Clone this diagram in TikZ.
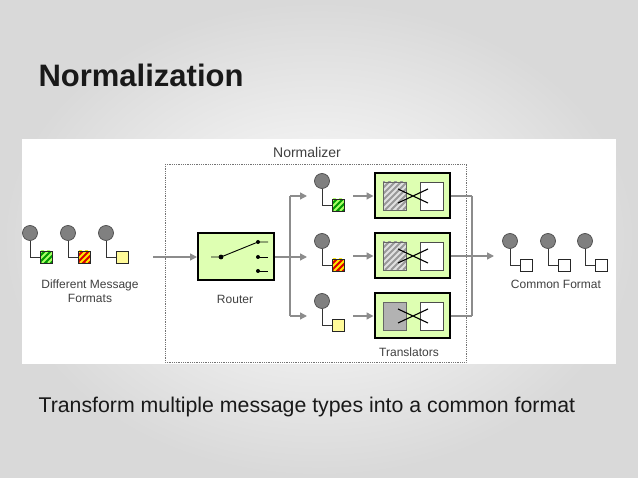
\documentclass[tikz,border=0pt]{standalone}
\usepackage{fontspec}
\setmainfont{Liberation Sans}
\usetikzlibrary{arrows.meta}
\begin{document}
\begin{tikzpicture}[x=1pt,y=-1pt,
  circ/.style={circle,draw=black!70,fill=black!50,minimum size=15pt,inner sep=0pt,line width=0.7pt},
  msq/.style={draw=black!85,minimum size=12pt,inner sep=0pt,line width=0.8pt},
  lbl/.style={font=\fontsize{12}{14}\selectfont,text=black!75,align=center},
  arr/.style={draw=black!45,line width=1.4pt,-{Triangle[length=7pt,width=7pt]}},
  ln/.style={draw=black!45,line width=1.4pt},
  box/.style={draw=black,fill=green!25!lime!30,line width=2pt,inner sep=0pt}]
\newcommand\stripes[4]{% x1 y1 x2 y2 ... uses color stripecol
  \begin{scope}
  \clip (#1,#2) rectangle (#3,#4);
  \foreach \k in {-40,-34,...,40}{\draw[stripecol,line width=2pt] (#1+\k,#4) -- (#1+\k+40,#4-40);}
  \end{scope}}
\shade[inner color=white,outer color=black!15] (0,0) rectangle (638,478);
\useasboundingbox (0,0) rectangle (638,478);
\node[anchor=west,font=\bfseries\fontsize{31}{34}\selectfont,text=black!90] (title) at (35,75) {Normalization};
\node[anchor=west,font=\fontsize{21.3}{24}\selectfont,text=black!90] (sub) at (35,407) {Transform multiple message types into a common format};
\fill[white] (22,139) rectangle (616,364);
\draw[black!55,densely dotted,line width=0.8pt] (165,164) rectangle (466,362);
\node[lbl,font=\fontsize{14}{16}\selectfont] (nz) at (307,152) {Normalizer};
% messages
\newcommand\msg[5]{%
  \node[circ] (#1c) at (#2,#3) {};
  \node[msq,fill=#4] (#1s) at (#2+16,#3+24) {};
  \ifx#5n\else\colorlet{stripecol}{#5}\stripes{#2+10}{#3+18}{#2+22}{#3+30}\fi
  \draw[black!85,line width=0.8pt] (#2+10,#3+18) rectangle (#2+22,#3+30);
  \draw[black!80,line width=0.8pt] (#1c.south) |- (#1s.west);}
\msg{a}{30}{233}{green!60!black}{green!40!lime!60}
\msg{b}{68}{233}{red!85!black}{yellow!90!orange}
\msg{c}{106}{233}{yellow!40}{n}
\msg{d}{322}{181}{green!60!black}{green!40!lime!60}
\msg{e}{322}{241}{red!85!black}{yellow!90!orange}
\msg{f}{322}{301}{yellow!40}{n}
\msg{g}{510}{241}{white}{n}
\msg{h}{548}{241}{white}{n}
\msg{i}{585}{241}{white}{n}
\node[lbl] (dl) at (90,291) {Different Message\\Formats};
\node[lbl] (cl) at (556,284) {Common Format};
% router
\node[box,minimum width=76pt,minimum height=47pt] (r) at (236,257) {};
\node[lbl] (rl) at (235,299) {Router};
\fill (221,257) circle (2.4pt); \fill (258,242) circle (2pt); \fill (258,257) circle (2pt); \fill (258,271) circle (2pt);
\draw[line width=0.9pt] (211,257) -- (221,257) -- (258,242) -- (268,242);
\draw[line width=0.9pt] (258,257) -- (268,257) (258,271) -- (268,271);
\coordinate (in) at (153,257);
\draw[arr] (in) -- (r.west);
\coordinate (sp) at (290,257);
\draw[ln] (r.east) -- (sp);
\draw[ln] (290,196) -- (290,316);
\draw[arr] (290,196) -- (307,196);
\draw[arr] (sp) -- (307,257);
\draw[arr] (290,316) -- (307,316);
% translators
\colorlet{stripecol}{black!40}
\foreach \n/\y/\pat in {t1/196/1,t2/256/1,t3/316/0}{
  \node[box,minimum width=75pt,minimum height=45pt] (\n) at (412,\y) {};
  \ifnum\pat=1
    \fill[black!12] (383,\y-14) rectangle (406,\y+14);
    \stripes{383}{\y-14}{406}{\y+14}
    \draw[black!60,line width=0.7pt] (383,\y-14) rectangle (406,\y+14);
  \else
    \draw[black!60,fill=black!30,line width=0.7pt] (383,\y-14) rectangle (406,\y+14);
  \fi
  \draw[black!70,fill=white,line width=0.7pt] (420,\y-14) rectangle (443,\y+14);
  \draw[line width=1.1pt] (398,\y-7) -- (428,\y+7) (398,\y+7) -- (428,\y-7);
  \draw[ln] (\n.east) -- (472,\y);
}
\draw[arr] (353,196) -- (t1.west);
\draw[arr] (353,256) -- (t2.west);
\draw[arr] (353,316) -- (t3.west);
\draw[ln] (472,196) -- (472,316);
\coordinate (out) at (494,256);
\draw[arr] (472,256) -- (out);
\node[lbl] (tl) at (409,352) {Translators};
\end{tikzpicture}
\end{document}
